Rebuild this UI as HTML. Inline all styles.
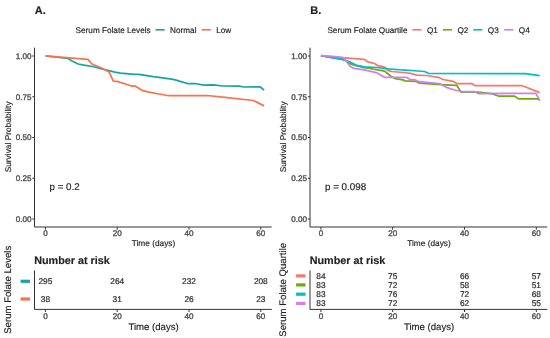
<!DOCTYPE html>
<html><head><meta charset="utf-8"><style>
html,body{margin:0;padding:0;background:#fff;width:550px;height:338px;overflow:hidden}
svg{display:block;will-change:transform}
text{font-family:"Liberation Sans", sans-serif;stroke:currentColor;stroke-width:0.15px;text-rendering:geometricPrecision}
</style></head><body>
<svg width="550" height="338" viewBox="0 0 550 338">
<rect width="550" height="338" fill="#fff"/>
<text x="34.8" y="13.5" font-size="11" font-weight="bold" fill="#222222" color="#222222">A.</text>
<text x="75.6" y="32.6" font-size="8.2" fill="#222222" color="#222222">Serum Folate Levels</text>
<line x1="155.5" y1="29.8" x2="164.7" y2="29.8" stroke="#1AA3A3" stroke-width="1.6"/>
<text x="170.1" y="32.6" font-size="8.2" fill="#222222" color="#222222">Normal</text>
<line x1="201.6" y1="29.8" x2="210.79999999999998" y2="29.8" stroke="#F7744F" stroke-width="1.6"/>
<text x="216.2" y="32.6" font-size="8.2" fill="#222222" color="#222222">Low</text>
<path d="M34.5,47.7 V227 H271.7" fill="none" stroke="#333333" stroke-width="1"/>
<line x1="32.3" y1="56.0" x2="34.5" y2="56.0" stroke="#333333" stroke-width="1"/>
<text x="31.4" y="58.9" font-size="8.1" text-anchor="end" fill="#4D4D4D" color="#4D4D4D" style="stroke-width:0.35px">1.00</text>
<line x1="32.3" y1="96.75" x2="34.5" y2="96.75" stroke="#333333" stroke-width="1"/>
<text x="31.4" y="99.65" font-size="8.1" text-anchor="end" fill="#4D4D4D" color="#4D4D4D" style="stroke-width:0.35px">0.75</text>
<line x1="32.3" y1="137.5" x2="34.5" y2="137.5" stroke="#333333" stroke-width="1"/>
<text x="31.4" y="140.4" font-size="8.1" text-anchor="end" fill="#4D4D4D" color="#4D4D4D" style="stroke-width:0.35px">0.50</text>
<line x1="32.3" y1="178.25" x2="34.5" y2="178.25" stroke="#333333" stroke-width="1"/>
<text x="31.4" y="181.15" font-size="8.1" text-anchor="end" fill="#4D4D4D" color="#4D4D4D" style="stroke-width:0.35px">0.25</text>
<line x1="32.3" y1="219.0" x2="34.5" y2="219.0" stroke="#333333" stroke-width="1"/>
<text x="31.4" y="221.9" font-size="8.1" text-anchor="end" fill="#4D4D4D" color="#4D4D4D" style="stroke-width:0.35px">0.00</text>
<line x1="45.4" y1="227" x2="45.4" y2="229.7" stroke="#333333" stroke-width="1"/>
<text x="45.4" y="236.4" font-size="8.1" text-anchor="middle" fill="#4D4D4D" color="#4D4D4D" style="stroke-width:0.35px">0</text>
<line x1="117.19999999999999" y1="227" x2="117.19999999999999" y2="229.7" stroke="#333333" stroke-width="1"/>
<text x="117.19999999999999" y="236.4" font-size="8.1" text-anchor="middle" fill="#4D4D4D" color="#4D4D4D" style="stroke-width:0.35px">20</text>
<line x1="189.0" y1="227" x2="189.0" y2="229.7" stroke="#333333" stroke-width="1"/>
<text x="189.0" y="236.4" font-size="8.1" text-anchor="middle" fill="#4D4D4D" color="#4D4D4D" style="stroke-width:0.35px">40</text>
<line x1="260.79999999999995" y1="227" x2="260.79999999999995" y2="229.7" stroke="#333333" stroke-width="1"/>
<text x="260.79999999999995" y="236.4" font-size="8.1" text-anchor="middle" fill="#4D4D4D" color="#4D4D4D" style="stroke-width:0.35px">60</text>
<text x="153.5" y="246" font-size="8.3" text-anchor="middle" fill="#222222" color="#222222">Time (days)</text>
<text transform="translate(10.9,136.9) rotate(-90)" font-size="8.35" text-anchor="middle" fill="#222222" color="#222222">Survival Probability</text>
<text x="49.5" y="190.2" font-size="9.8" fill="#222222" color="#222222">p = 0.2</text>
<polyline points="45.5,55.8 68.0,58.5 71.6,60.7 78.2,64.0 84.0,65.1 92.7,66.5 100.0,68.5 106.6,70.1 115.0,72.1 120.5,73.2 134.6,74.3 139.0,74.3 153.2,76.7 160.8,77.6 170.0,78.8 174.4,79.6 180.9,81.6 187.5,83.5 195.1,83.5 203.8,85.1 213.6,84.9 222.4,86.0 239.2,86.1 243.9,87.0 260.0,86.8 264.1,90.1" fill="none" stroke="#1AA3A3" stroke-width="1.75" stroke-linejoin="round"/>
<polyline points="45.5,55.8 87.6,59.3 88.4,59.9 92.0,64.0 102.2,68.3 109.3,72.3 113.3,81.2 116.4,81.4 117.2,81.3 131.4,86.0 135.2,86.0 142.3,90.4 147.7,91.8 167.4,95.5 207.1,95.5 225.0,97.4 253.4,100.5 264.1,105.9" fill="none" stroke="#F7744F" stroke-width="1.75" stroke-linejoin="round"/>
<text x="34.2" y="263.8" font-size="10.8" font-weight="bold" fill="#222222" color="#222222">Number at risk</text>
<path d="M34.5,270.4 V309.4 H271.8" fill="none" stroke="#333333" stroke-width="1"/>
<line x1="45.4" y1="309.4" x2="45.4" y2="312" stroke="#333333" stroke-width="1"/>
<text x="45.4" y="319.2" font-size="8.1" text-anchor="middle" fill="#4D4D4D" color="#4D4D4D" style="stroke-width:0.35px">0</text>
<line x1="117.19999999999999" y1="309.4" x2="117.19999999999999" y2="312" stroke="#333333" stroke-width="1"/>
<text x="117.19999999999999" y="319.2" font-size="8.1" text-anchor="middle" fill="#4D4D4D" color="#4D4D4D" style="stroke-width:0.35px">20</text>
<line x1="189.0" y1="309.4" x2="189.0" y2="312" stroke="#333333" stroke-width="1"/>
<text x="189.0" y="319.2" font-size="8.1" text-anchor="middle" fill="#4D4D4D" color="#4D4D4D" style="stroke-width:0.35px">40</text>
<line x1="260.79999999999995" y1="309.4" x2="260.79999999999995" y2="312" stroke="#333333" stroke-width="1"/>
<text x="260.79999999999995" y="319.2" font-size="8.1" text-anchor="middle" fill="#4D4D4D" color="#4D4D4D" style="stroke-width:0.35px">60</text>
<text x="153.6" y="329.5" font-size="9.6" text-anchor="middle" fill="#222222" color="#222222">Time (days)</text>
<text transform="translate(10.8,289.8) rotate(-90)" font-size="9.6" text-anchor="middle" fill="#222222" color="#222222">Serum Folate Levels</text>
<rect x="20.6" y="279.7" width="9.4" height="3.2" fill="#1AA3A3"/>
<text x="45.4" y="284.0" font-size="8.3" text-anchor="middle" fill="#2a2a2a" color="#2a2a2a" style="stroke-width:0.2px">295</text>
<text x="117.19999999999999" y="284.0" font-size="8.3" text-anchor="middle" fill="#2a2a2a" color="#2a2a2a" style="stroke-width:0.2px">264</text>
<text x="189.0" y="284.0" font-size="8.3" text-anchor="middle" fill="#2a2a2a" color="#2a2a2a" style="stroke-width:0.2px">232</text>
<text x="260.79999999999995" y="284.0" font-size="8.3" text-anchor="middle" fill="#2a2a2a" color="#2a2a2a" style="stroke-width:0.2px">208</text>
<rect x="20.6" y="297.4" width="9.4" height="3.2" fill="#F7744F"/>
<text x="45.4" y="301.7" font-size="8.3" text-anchor="middle" fill="#2a2a2a" color="#2a2a2a" style="stroke-width:0.2px">38</text>
<text x="117.19999999999999" y="301.7" font-size="8.3" text-anchor="middle" fill="#2a2a2a" color="#2a2a2a" style="stroke-width:0.2px">31</text>
<text x="189.0" y="301.7" font-size="8.3" text-anchor="middle" fill="#2a2a2a" color="#2a2a2a" style="stroke-width:0.2px">26</text>
<text x="260.79999999999995" y="301.7" font-size="8.3" text-anchor="middle" fill="#2a2a2a" color="#2a2a2a" style="stroke-width:0.2px">23</text>
<text x="310.3" y="13.5" font-size="11" font-weight="bold" fill="#222222" color="#222222">B.</text>
<text x="327.4" y="32.6" font-size="8.2" fill="#222222" color="#222222">Serum Folate Quartile</text>
<line x1="412.4" y1="29.8" x2="421.59999999999997" y2="29.8" stroke="#F8766D" stroke-width="1.6"/>
<text x="427.0" y="32.6" font-size="8.2" fill="#222222" color="#222222">Q1</text>
<line x1="442.9" y1="29.8" x2="452.09999999999997" y2="29.8" stroke="#6CAB0A" stroke-width="1.6"/>
<text x="457.5" y="32.6" font-size="8.2" fill="#222222" color="#222222">Q2</text>
<line x1="473.2" y1="29.8" x2="482.4" y2="29.8" stroke="#00BFC4" stroke-width="1.6"/>
<text x="487.79999999999995" y="32.6" font-size="8.2" fill="#222222" color="#222222">Q3</text>
<line x1="504.2" y1="29.8" x2="513.4" y2="29.8" stroke="#D27CFA" stroke-width="1.6"/>
<text x="518.8" y="32.6" font-size="8.2" fill="#222222" color="#222222">Q4</text>
<path d="M310.0,47.7 V227 H547.2" fill="none" stroke="#333333" stroke-width="1"/>
<line x1="307.8" y1="56.0" x2="310.0" y2="56.0" stroke="#333333" stroke-width="1"/>
<text x="306.9" y="58.9" font-size="8.1" text-anchor="end" fill="#4D4D4D" color="#4D4D4D" style="stroke-width:0.35px">1.00</text>
<line x1="307.8" y1="96.75" x2="310.0" y2="96.75" stroke="#333333" stroke-width="1"/>
<text x="306.9" y="99.65" font-size="8.1" text-anchor="end" fill="#4D4D4D" color="#4D4D4D" style="stroke-width:0.35px">0.75</text>
<line x1="307.8" y1="137.5" x2="310.0" y2="137.5" stroke="#333333" stroke-width="1"/>
<text x="306.9" y="140.4" font-size="8.1" text-anchor="end" fill="#4D4D4D" color="#4D4D4D" style="stroke-width:0.35px">0.50</text>
<line x1="307.8" y1="178.25" x2="310.0" y2="178.25" stroke="#333333" stroke-width="1"/>
<text x="306.9" y="181.15" font-size="8.1" text-anchor="end" fill="#4D4D4D" color="#4D4D4D" style="stroke-width:0.35px">0.25</text>
<line x1="307.8" y1="219.0" x2="310.0" y2="219.0" stroke="#333333" stroke-width="1"/>
<text x="306.9" y="221.9" font-size="8.1" text-anchor="end" fill="#4D4D4D" color="#4D4D4D" style="stroke-width:0.35px">0.00</text>
<line x1="320.9" y1="227" x2="320.9" y2="229.7" stroke="#333333" stroke-width="1"/>
<text x="320.9" y="236.4" font-size="8.1" text-anchor="middle" fill="#4D4D4D" color="#4D4D4D" style="stroke-width:0.35px">0</text>
<line x1="392.7" y1="227" x2="392.7" y2="229.7" stroke="#333333" stroke-width="1"/>
<text x="392.7" y="236.4" font-size="8.1" text-anchor="middle" fill="#4D4D4D" color="#4D4D4D" style="stroke-width:0.35px">20</text>
<line x1="464.5" y1="227" x2="464.5" y2="229.7" stroke="#333333" stroke-width="1"/>
<text x="464.5" y="236.4" font-size="8.1" text-anchor="middle" fill="#4D4D4D" color="#4D4D4D" style="stroke-width:0.35px">40</text>
<line x1="536.3" y1="227" x2="536.3" y2="229.7" stroke="#333333" stroke-width="1"/>
<text x="536.3" y="236.4" font-size="8.1" text-anchor="middle" fill="#4D4D4D" color="#4D4D4D" style="stroke-width:0.35px">60</text>
<text x="429.0" y="246" font-size="8.3" text-anchor="middle" fill="#222222" color="#222222">Time (days)</text>
<text transform="translate(286.4,136.9) rotate(-90)" font-size="8.35" text-anchor="middle" fill="#222222" color="#222222">Survival Probability</text>
<text x="325.0" y="190.2" font-size="9.8" fill="#222222" color="#222222">p = 0.098</text>
<polyline points="320.9,55.7 335.0,57.1 364.1,59.3 367.7,61.8 370.0,62.4 374.4,63.5 377.3,65.3 384.5,67.1 388.2,70.7 391.8,71.5 402.7,72.5 410.8,73.3 416.6,75.1 426.8,75.5 438.5,77.3 442.9,79.5 453.1,81.3 456.7,83.5 471.3,83.5 474.9,85.6 521.9,85.7 526.3,87.3 539.7,92.6" fill="none" stroke="#F8766D" stroke-width="1.75" stroke-linejoin="round"/>
<polyline points="320.9,55.7 335.0,58.2 342.3,59.3 345.9,60.7 351.7,64.4 356.1,65.6 364.1,67.6 370.0,68.5 384.5,71.1 387.5,73.3 391.1,76.5 395.5,78.7 402.7,79.8 405.0,80.9 415.9,81.3 419.5,83.1 434.1,84.2 445.0,84.8 456.7,85.3 458.2,87.5 461.1,92.2 477.3,92.2 491.8,93.6 499.1,96.2 514.6,96.1 518.5,98.9 537.6,98.9 539.7,99.9" fill="none" stroke="#6CAB0A" stroke-width="1.75" stroke-linejoin="round"/>
<polyline points="320.9,55.7 335.0,58.2 342.3,59.3 349.5,61.8 356.1,65.1 364.1,66.9 377.3,67.5 388.2,68.9 402.7,70.0 405.0,70.0 424.6,71.5 428.3,73.3 525.2,73.6 539.7,75.7" fill="none" stroke="#00BFC4" stroke-width="1.75" stroke-linejoin="round"/>
<polyline points="320.9,55.7 335.0,56.7 343.0,57.5 346.6,61.5 350.3,66.5 353.9,68.4 364.1,69.8 370.0,71.1 377.3,72.9 384.5,77.3 406.4,77.3 410.1,79.5 414.5,79.5 418.1,81.3 426.8,82.4 439.2,83.5 445.8,87.1 454.5,90.0 461.8,91.5 474.9,91.5 478.0,93.6 535.9,93.3 539.7,100.6" fill="none" stroke="#D27CFA" stroke-width="1.75" stroke-linejoin="round"/>
<text x="309.7" y="263.8" font-size="10.8" font-weight="bold" fill="#222222" color="#222222">Number at risk</text>
<path d="M310.0,270.4 V309.4 H547.3" fill="none" stroke="#333333" stroke-width="1"/>
<line x1="320.9" y1="309.4" x2="320.9" y2="312" stroke="#333333" stroke-width="1"/>
<text x="320.9" y="319.2" font-size="8.1" text-anchor="middle" fill="#4D4D4D" color="#4D4D4D" style="stroke-width:0.35px">0</text>
<line x1="392.7" y1="309.4" x2="392.7" y2="312" stroke="#333333" stroke-width="1"/>
<text x="392.7" y="319.2" font-size="8.1" text-anchor="middle" fill="#4D4D4D" color="#4D4D4D" style="stroke-width:0.35px">20</text>
<line x1="464.5" y1="309.4" x2="464.5" y2="312" stroke="#333333" stroke-width="1"/>
<text x="464.5" y="319.2" font-size="8.1" text-anchor="middle" fill="#4D4D4D" color="#4D4D4D" style="stroke-width:0.35px">40</text>
<line x1="536.3" y1="309.4" x2="536.3" y2="312" stroke="#333333" stroke-width="1"/>
<text x="536.3" y="319.2" font-size="8.1" text-anchor="middle" fill="#4D4D4D" color="#4D4D4D" style="stroke-width:0.35px">60</text>
<text x="429.1" y="329.5" font-size="9.6" text-anchor="middle" fill="#222222" color="#222222">Time (days)</text>
<text transform="translate(286.3,289.8) rotate(-90)" font-size="9.6" text-anchor="middle" fill="#222222" color="#222222">Serum Folate Quartile</text>
<rect x="296.1" y="274.29999999999995" width="9.4" height="3.2" fill="#F8766D"/>
<text x="320.9" y="278.59999999999997" font-size="8.3" text-anchor="middle" fill="#2a2a2a" color="#2a2a2a" style="stroke-width:0.2px">84</text>
<text x="392.7" y="278.59999999999997" font-size="8.3" text-anchor="middle" fill="#2a2a2a" color="#2a2a2a" style="stroke-width:0.2px">75</text>
<text x="464.5" y="278.59999999999997" font-size="8.3" text-anchor="middle" fill="#2a2a2a" color="#2a2a2a" style="stroke-width:0.2px">66</text>
<text x="536.3" y="278.59999999999997" font-size="8.3" text-anchor="middle" fill="#2a2a2a" color="#2a2a2a" style="stroke-width:0.2px">57</text>
<rect x="296.1" y="283.29999999999995" width="9.4" height="3.2" fill="#6CAB0A"/>
<text x="320.9" y="287.59999999999997" font-size="8.3" text-anchor="middle" fill="#2a2a2a" color="#2a2a2a" style="stroke-width:0.2px">83</text>
<text x="392.7" y="287.59999999999997" font-size="8.3" text-anchor="middle" fill="#2a2a2a" color="#2a2a2a" style="stroke-width:0.2px">72</text>
<text x="464.5" y="287.59999999999997" font-size="8.3" text-anchor="middle" fill="#2a2a2a" color="#2a2a2a" style="stroke-width:0.2px">58</text>
<text x="536.3" y="287.59999999999997" font-size="8.3" text-anchor="middle" fill="#2a2a2a" color="#2a2a2a" style="stroke-width:0.2px">51</text>
<rect x="296.1" y="292.59999999999997" width="9.4" height="3.2" fill="#00BFC4"/>
<text x="320.9" y="296.9" font-size="8.3" text-anchor="middle" fill="#2a2a2a" color="#2a2a2a" style="stroke-width:0.2px">83</text>
<text x="392.7" y="296.9" font-size="8.3" text-anchor="middle" fill="#2a2a2a" color="#2a2a2a" style="stroke-width:0.2px">76</text>
<text x="464.5" y="296.9" font-size="8.3" text-anchor="middle" fill="#2a2a2a" color="#2a2a2a" style="stroke-width:0.2px">72</text>
<text x="536.3" y="296.9" font-size="8.3" text-anchor="middle" fill="#2a2a2a" color="#2a2a2a" style="stroke-width:0.2px">68</text>
<rect x="296.1" y="301.79999999999995" width="9.4" height="3.2" fill="#D27CFA"/>
<text x="320.9" y="306.09999999999997" font-size="8.3" text-anchor="middle" fill="#2a2a2a" color="#2a2a2a" style="stroke-width:0.2px">83</text>
<text x="392.7" y="306.09999999999997" font-size="8.3" text-anchor="middle" fill="#2a2a2a" color="#2a2a2a" style="stroke-width:0.2px">72</text>
<text x="464.5" y="306.09999999999997" font-size="8.3" text-anchor="middle" fill="#2a2a2a" color="#2a2a2a" style="stroke-width:0.2px">62</text>
<text x="536.3" y="306.09999999999997" font-size="8.3" text-anchor="middle" fill="#2a2a2a" color="#2a2a2a" style="stroke-width:0.2px">55</text>
</svg>
</body></html>
